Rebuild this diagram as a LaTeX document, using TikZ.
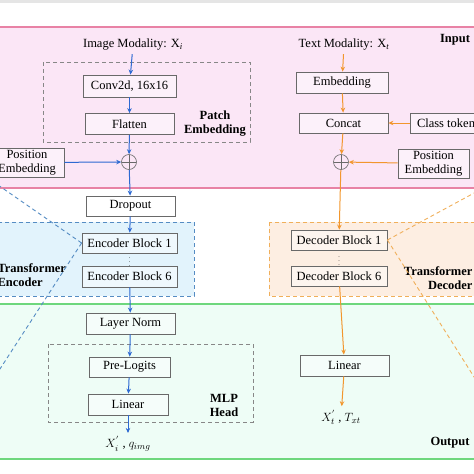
\documentclass[tikz,border=0pt]{standalone}
\usepackage{fontspec}
\setmainfont{Liberation Serif}
\usetikzlibrary{arrows.meta}
\definecolor{pk}{RGB}{251, 230, 246}
\definecolor{pkl}{RGB}{232, 130, 165}
\definecolor{gn}{RGB}{238, 253, 246}
\definecolor{gnl}{RGB}{110, 215, 125}
\definecolor{bb}{RGB}{226, 243, 252}
\definecolor{bbl}{RGB}{85, 140, 195}
\definecolor{oo}{RGB}{253, 238, 226}
\definecolor{ool}{RGB}{240, 175, 90}
\definecolor{ba}{RGB}{45, 105, 210}
\definecolor{oa}{RGB}{242, 150, 45}
\definecolor{bx}{RGB}{105, 105, 105}

\begin{document}
\begin{tikzpicture}[x=1pt, y=-1pt,
  every node/.style={font=\fontsize{12.5}{14}\selectfont},
  blk/.style={draw=bx, line width=0.8pt, fill=white, fill opacity=0.45, text opacity=1, inner sep=0pt},
  lbl/.style={font=\fontsize{12.5}{14}\selectfont\bfseries},
  dotsv/.style={font=\fontsize{6}{6}\selectfont, inner sep=0pt},
  plus/.style={circle, draw=bx, line width=0.6pt, minimum size=15pt, inner sep=0pt,
    path picture={\draw[bx, line width=0.6pt] (path picture bounding box.north) -- (path picture bounding box.south)
      (path picture bounding box.west) -- (path picture bounding box.east);}},
  barrow/.style={draw=ba, line width=1pt, -{Stealth[length=5pt, width=4.5pt]}},
  oarrow/.style={draw=oa, line width=1pt, -{Stealth[length=5pt, width=4.5pt]}},
  zoomb/.style={draw=bbl, line width=0.9pt, dash pattern=on 4pt off 3pt},
  zoomo/.style={draw=ool, line width=0.9pt, dash pattern=on 4pt off 3pt},
  grp/.style={draw=bx!80, line width=0.8pt, dash pattern=on 4pt off 3pt}]
\clip (0,0) rectangle (474,474);
% regions
\fill [gray!20] (0,0) rectangle (474,2.5);
\draw [fill=pk, draw=pkl, line width=1.3pt] (-3,27) rectangle (477,188);
\draw [fill=gn, draw=gnl, line width=1.3pt] (-3,304) rectangle (477,459);
\draw [fill=bb, draw=bbl, line width=0.9pt, dash pattern=on 4pt off 3pt] (-5,222) rectangle (194,296);
\draw [fill=oo, draw=ool, line width=0.9pt, dash pattern=on 4pt off 3pt] (269,222) rectangle (480,296);
\draw [grp] (43,62) rectangle (250,142);
\draw [grp] (48,344) rectangle (253,422);

% image branch
\node (imgin) at (133,45) {Image Modality: X\textsubscript{\itshape i}};
\node (conv) [blk, minimum width=93pt, minimum height=22pt] at (129.5,86) {Conv2d, 16x16};
\node (flat) [blk, minimum width=89pt, minimum height=21pt] at (129.5,124) {Flatten};
\node (patch) [lbl, align=center] at (215,124) {Patch\\Embedding};
\node (plusl) [plus] at (129,162) {};
\node (posl) [blk, minimum width=74pt, minimum height=29pt, align=center] at (27,162.5) {Position\\Embedding};
\node (drop) [blk, minimum width=89pt, minimum height=20pt] at (130.5,206) {Dropout};
\node (enc1) [blk, minimum width=95pt, minimum height=20pt] at (129.5,243) {Encoder Block 1};
\node (dotl) [dotsv] at (129.5,259.5) {$\vdots$};
\node (enc6) [blk, minimum width=95pt, minimum height=21pt] at (129.5,276.5) {Encoder Block 6};
\node (encl) [lbl, align=left, anchor=west] at (-6,275) {Transformer\\Encoder};
\node (norm) [blk, minimum width=89pt, minimum height=21pt] at (130.5,323.5) {Layer Norm};
\node (prel) [blk, minimum width=81pt, minimum height=20pt] at (129.5,367) {Pre-Logits};
\node (linl) [blk, minimum width=80pt, minimum height=21pt] at (128,404.5) {Linear};
\node (mlp) [lbl, align=center] at (224,405) {MLP\\Head};
\node (outl) at (128,444) {$X_i^{'}$ , $q_{img}$};

% text branch
\node (txtin) at (344,45) {Text Modality: X\textsubscript{\itshape t}};
\node (input) [lbl] at (455,40) {Input};
\node (embd) [blk, minimum width=92pt, minimum height=21pt] at (342,82.5) {Embedding};
\node (cat) [blk, minimum width=89pt, minimum height=20pt] at (343.5,123) {Concat};
\node (cls) [blk, minimum width=72pt, minimum height=20pt] at (446,123) {Class token};
\node (plusr) [plus] at (341,162) {};
\node (posr) [blk, minimum width=71pt, minimum height=29pt, align=center] at (433.5,163.5) {Position\\Embedding};
\node (dec1) [blk, minimum width=96pt, minimum height=20pt] at (339,240) {Decoder Block 1};
\node (dotr) [dotsv] at (339,258) {$\vdots$};
\node (dec6) [blk, minimum width=96pt, minimum height=20pt] at (339,276) {Decoder Block 6};
\node (decl) [lbl, align=right, anchor=east] at (476,278) {Transformer\\Decoder};
\node (linr) [blk, minimum width=89pt, minimum height=21pt] at (344.5,365.5) {Linear};
\node (outr) at (341,417) {$X_t^{'}$ , $T_{xt}$};
\node (output) [lbl] at (450,443) {Output};

% zoom lines
\coordinate (bz1) at (-2,185);
\coordinate (bz2) at (-2,372);
\coordinate (oz1) at (476,192);
\coordinate (oz2) at (476,380);
\draw [zoomb] (enc1.west) -- (bz1);
\draw [zoomb] (enc1.west) -- (bz2);
\draw [zoomo] (dec1.east) -- (oz1);
\draw [zoomo] (dec1.east) -- (oz2);

% image arrows
\draw [barrow] (imgin) -- (conv);
\draw [barrow] (conv) -- (flat);
\draw [barrow] (flat) -- (plusl);
\draw [barrow] (posl) -- (plusl);
\draw [barrow] (plusl) -- (drop);
\draw [barrow] (drop) -- (enc1);
\draw [barrow] (enc6) -- (norm);
\draw [barrow] (norm) -- (prel);
\draw [barrow] (prel) -- (linl);
\draw [barrow] (linl) -- (outl);

% text arrows
\draw [oarrow] (txtin) -- (embd);
\draw [oarrow] (embd) -- (cat);
\draw [oarrow] (cls) -- (cat);
\draw [oarrow] (cat) -- (plusr);
\draw [oarrow] (posr) -- (plusr);
\draw [oarrow] (plusr) -- (dec1);
\draw [oarrow] (dec6) -- (linr);
\draw [oarrow] (linr) -- (outr);
\end{tikzpicture}
\end{document}
